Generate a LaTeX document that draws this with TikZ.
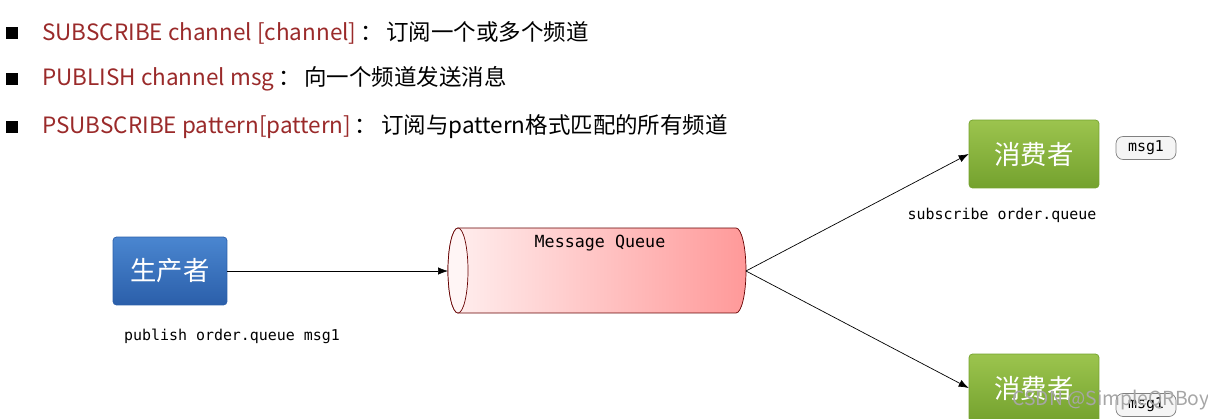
\documentclass[tikz,border=0pt]{standalone}
\usepackage{fontspec}
\setmainfont{Noto Sans CJK SC}
\setmonofont{DejaVu Sans Mono}
\usetikzlibrary{arrows.meta, positioning}
\definecolor{cmdred}{HTML}{9A2A2A}
\definecolor{prodtop}{HTML}{4A86D0}
\definecolor{prodbot}{HTML}{2B5FAA}
\definecolor{constop}{HTML}{9CC44E}
\definecolor{consbot}{HTML}{74A22E}

\begin{document}
\begin{tikzpicture}[x=0.02cm, y=-0.02cm,
    bullet/.style={fill=black, minimum size=0.24cm, inner sep=0pt},
    cmd/.style={anchor=west, inner sep=0pt, font=\fontsize{12.8}{16}\selectfont},
    producer/.style={rectangle, rounded corners=2pt, draw=prodbot, top color=prodtop, bottom color=prodbot, minimum width=2.28cm, minimum height=1.36cm, text=white, font=\fontsize{15}{17}\selectfont},
    consumer/.style={rectangle, rounded corners=2pt, draw=consbot, top color=constop, bottom color=consbot, minimum width=2.6cm, minimum height=1.36cm, text=white, font=\fontsize{15}{17}\selectfont},
    tag/.style={rectangle, rounded corners=4pt, draw=gray, fill=gray!8, minimum width=1.2cm, minimum height=0.46cm, inner sep=1pt, font=\ttfamily\fontsize{8.5}{10}\selectfont},
    lbl/.style={font=\ttfamily\fontsize{8.5}{10}\selectfont},
    arrow/.style={-{Latex[length=2mm]}, thin}
]
\useasboundingbox (0,0) rectangle (1208,419);

% Commands
\foreach \y/\c/\t in {33/{SUBSCRIBE channel [channel]}/{\,：\,订阅一个或多个频道},
                      79/{PUBLISH channel msg}/{\,：\,向一个频道发送消息},
                      127/{PSUBSCRIBE pattern[pattern]}/{\,：\,订阅与pattern格式匹配的所有频道}} {
  \node[bullet] at (12,\y) {};
  \node[cmd] at (42,\y) {\textcolor{cmdred}{\c}\t};
}

% Producer
\node[producer] (prod) at (170,271) {生产者};
\node[lbl] (publbl) at (232,336) {publish order.queue msg1};

% Queue
\shade[left color=red!6, right color=red!40, draw=red!40!black, thin]
  (458,228) -- (736,228) arc[start angle=90, end angle=-90, x radius=0.2cm, y radius=0.85cm]
  -- (458,313) arc[start angle=270, end angle=90, x radius=0.2cm, y radius=0.85cm] -- cycle;
\draw[red!40!black, thin, fill=red!4] (458,270.5) ellipse[x radius=0.2cm, y radius=0.85cm];
\coordinate (qin) at (448,271);
\coordinate (qout) at (746,271);
\node[lbl, font=\ttfamily\fontsize{9.5}{11}\selectfont] (qname) at (600,243) {Message Queue};

% Consumers
\node[consumer] (cons1) at (1034,154) {消费者};
\node[consumer] (cons2) at (1034,388) {消费者};
\node[lbl] (sublbl) at (1002,215) {subscribe order.queue};
\node[tag] (msg1) at (1146,148) {msg1};
\node[tag] (msg2) at (1146,405) {msg1};

% Connectors
\draw[arrow] (prod) -- (qin);
\draw[arrow] (qout) -- (cons1.west);
\draw[arrow] (qout) -- (cons2.west);

\node[text=gray!70, font=\fontsize{11}{12}\selectfont] at (1111,400) {CSDN @SimpleQRBoy};
\end{tikzpicture}
\end{document}
